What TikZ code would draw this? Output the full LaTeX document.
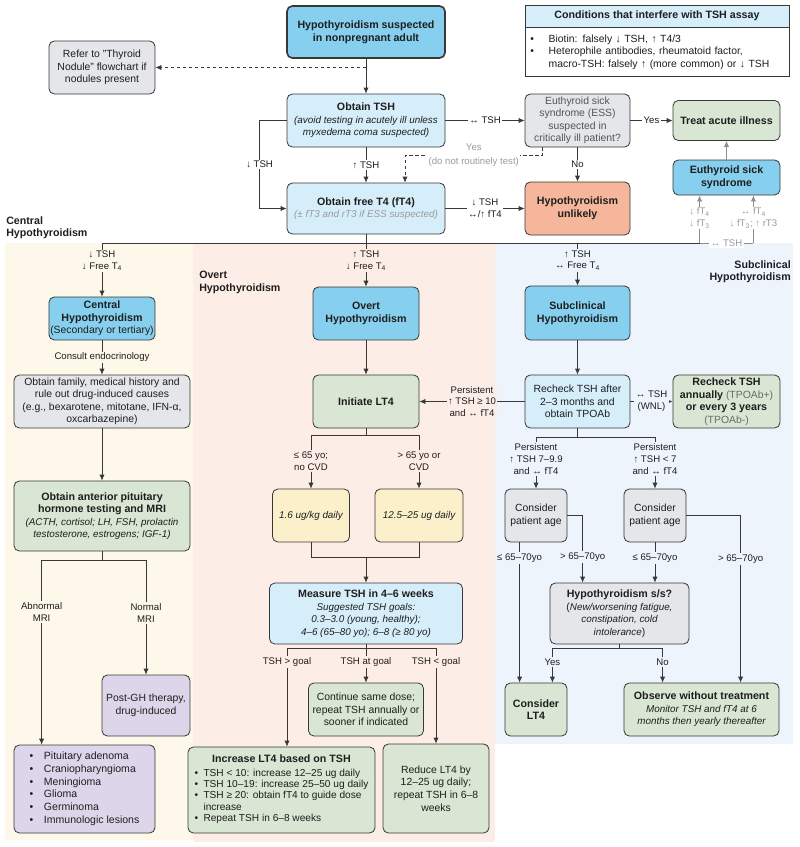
\documentclass[tikz,border=0pt]{standalone}
\usepackage{fontspec}
\setmainfont{Liberation Sans}
\usetikzlibrary{%
    arrows.meta,
    calc,
    positioning
}
\definecolor{linec}{HTML}{383838}
\definecolor{textc}{HTML}{1E1E1E}
\definecolor{mblue}{HTML}{86CFEF}
\definecolor{lblue}{HTML}{D6EEFA}
\definecolor{boxgrey}{HTML}{E4E6EA}
\definecolor{boxgreen}{HTML}{D9E6D3}
\definecolor{salmon}{HTML}{F5B69C}
\definecolor{boxpurple}{HTML}{DDD6EA}
\definecolor{boxyellow}{HTML}{FBF0C9}
\definecolor{centralbg}{HTML}{FDF8EA}
\definecolor{overtbg}{HTML}{FCEEE7}
\definecolor{subbg}{HTML}{EEF4FC}
\definecolor{softtext}{HTML}{9A9A9A}
\definecolor{midgrey}{HTML}{6B6B6B}
\definecolor{esstext}{HTML}{555555}
\definecolor{softline}{HTML}{8E8E8E}
\newcommand{\flowtxt}{\fontsize{7.8}{9.4}\selectfont}
\newcommand{\flowbold}{\fontsize{8}{9.6}\selectfont\bfseries}
\newcommand{\flowit}{\fontsize{7.4}{9.4}\selectfont\itshape}
\newcommand{\flowlbl}{\fontsize{7.2}{8.8}\selectfont}
\tikzset{flowarrow/.style = {-{Latex[length=4.5pt, width=4pt]}}}

\begin{document}
\begin{tikzpicture}[
    x=0.75pt, y=-0.75pt,
    boxsize/.style 2 args = {minimum width=#1*0.75pt, minimum height=#2*0.75pt},
    box/.style = {draw=linec, line width=.6pt, rounded corners=4pt, align=center,
        inner sep=1pt, text=textc, font=\flowtxt},
    bluebox/.style = {box, fill=mblue},
    lbluebox/.style = {box, fill=lblue},
    greybox/.style = {box, fill=boxgrey},
    greenbox/.style = {box, fill=boxgreen},
    salmonbox/.style = {box, fill=salmon},
    purplebox/.style = {box, fill=boxpurple},
    yellowbox/.style = {box, fill=boxyellow},
    wire/.style = {draw=linec, line width=.6pt},
    softwire/.style = {draw=softline, line width=.6pt},
    lbl/.style = {font=\flowlbl, text=textc, inner sep=1pt, align=center},
    softlbl/.style = {lbl, text=softtext},
    regionlbl/.style = {font=\flowbold, text=textc, inner sep=0pt, align=left}]
    \useasboundingbox (0,0) rectangle (800,847);
    \fill[white] (0,0) rectangle (800,847);

    \fill[centralbg] (5,243) rectangle (193,840);
    \fill[overtbg] (193,243) rectangle (495,842);
    \fill[subbg] (495,243) rectangle (793,744);

    \node[regionlbl, anchor=north west] (cenlbl) at (6,216) {Central\\Hypothyroidism};
    \node[regionlbl, anchor=north west] (ovlbl) at (199,271) {Overt\\Hypothyroidism};
    \node[regionlbl, anchor=north east, align=right] (sublbl) at (791,260) {Subclinical\\Hypothyroidism};

    \node[draw=linec, line width=.6pt, fill=lblue, boxsize={264}{22}, font=\flowbold, text=textc]
        (assayhead) at (657,16) {Conditions that interfere with TSH assay};
    \node[draw=linec, line width=.6pt, fill=white, anchor=north west, text width=190pt,
        inner xsep=4pt, minimum height=49*0.75pt, font=\flowtxt, text=textc, align=left]
        (assaybody) at (assayhead.south west)
        {\begin{tabular}{@{}l@{\hspace{11pt}}l@{}}
            \textbullet & Biotin: falsely ↓ TSH, ↑ T4/3\\
            \textbullet & Heterophile antibodies, rheumatoid factor,\\
             & macro-TSH: falsely ↑ (more common) or ↓ TSH
        \end{tabular}};

    \node[bluebox, line width=1.2pt, boxsize={158}{52}] (suspect) at (366,32)
        {{\flowbold Hypothyroidism suspected}\\{\flowbold in nonpregnant adult}};
    \node[greybox, boxsize={106}{53}] (refer) at (102,67.5)
        {Refer to "Thyroid\\Nodule" flowchart if\\nodules present};
    \node[lbluebox, boxsize={158}{53}] (tsh) at (366,120.5)
        {{\flowbold Obtain TSH}\\{\flowit (avoid testing in acutely ill unless}\\{\flowit myxedema coma suspected)}};
    \node[lbluebox, boxsize={158}{51}] (ft4) at (366,208.5)
        {{\flowbold Obtain free T4 (fT4)}\\{\flowit\color{softtext}(± fT3 and rT3 if ESS suspected)}};
    \node[greybox, boxsize={105}{53}, text=esstext] (ess) at (577.5,120.5)
        {Euthyroid sick\\syndrome (ESS)\\suspected in\\critically ill patient?};
    \node[greenbox, boxsize={107}{40}] (treat) at (726.5,120.5) {{\flowbold Treat acute illness}};
    \node[salmonbox, boxsize={105}{53}] (unlikely) at (577.5,208.5)
        {{\flowbold Hypothyroidism}\\{\flowbold unlikely}};
    \node[bluebox, boxsize={107}{35}] (esyn) at (726.5,177.5)
        {{\flowbold Euthyroid sick}\\{\flowbold syndrome}};

    \node[bluebox, boxsize={105}{43}] (central) at (102,318.5)
        {{\flowbold Central}\\{\flowbold Hypothyroidism}\\(Secondary or tertiary)};
    \node[greybox, boxsize={176}{53}] (family) at (102,401.5)
        {Obtain family, medical history and\\rule out drug-induced causes\\(e.g., bexarotene, mitotane, IFN-α,\\oxcarbazepine)};
    \node[greenbox, boxsize={176}{70}] (pittest) at (102,516)
        {{\flowbold Obtain anterior pituitary}\\{\flowbold hormone testing and MRI}\\{\flowit (ACTH, cortisol; LH, FSH, prolactin}\\{\flowit testosterone, estrogens; IGF-1)}};
    \node[purplebox, boxsize={88}{61}] (postgh) at (146,705.5) {Post-GH therapy,\\drug-induced};
    \node[purplebox, boxsize={141}{88}] (lesions) at (84.5,789)
        {{\fontsize{7.9}{9.5}\selectfont\begin{tabular}{@{}l@{\hspace{8pt}}l@{}}
            \textbullet & Pituitary adenoma\\
            \textbullet & Craniopharyngioma\\
            \textbullet & Meningioma\\
            \textbullet & Glioma\\
            \textbullet & Germinoma\\
            \textbullet & Immunologic lesions
        \end{tabular}}};

    \node[bluebox, boxsize={106}{53}] (overt) at (366,313.5)
        {{\flowbold Overt}\\{\flowbold Hypothyroidism}};
    \node[greenbox, boxsize={106}{53}] (initiate) at (366,401.5) {{\flowbold Initiate LT4}};
    \node[yellowbox, boxsize={77}{53}] (dose1) at (311,515.5) {{\flowit 1.6 ug/kg daily}};
    \node[yellowbox, boxsize={88}{53}] (dose2) at (419,515.5) {{\flowit 12.5–25 ug daily}};
    \node[lbluebox, boxsize={193}{61}] (measure) at (366,613.5)
        {{\flowbold Measure TSH in 4–6 weeks}\\{\flowit Suggested TSH goals:}\\{\flowit 0.3–3.0 (young, healthy);}\\{\flowit 4–6 (65–80 yo); 6–8 (≥ 80 yo)}};
    \node[greenbox, boxsize={187}{86}] (increase) at (281.5,790)
        {{\flowbold Increase LT4 based on TSH}\\[3pt]
        {\fontsize{7.6}{8.5}\selectfont\begin{tabular}{@{}l@{\hspace{4pt}}l@{}}
            \textbullet & TSH < 10: increase 12–25 ug daily\\
            \textbullet & TSH 10–19: increase 25–50 ug daily\\
            \textbullet & TSH ≥ 20: obtain fT4 to guide dose\\
             & increase\\
            \textbullet & Repeat TSH in 6–8 weeks
        \end{tabular}}};
    \node[greenbox, boxsize={115}{53}] (cont) at (366,709.5)
        {Continue same dose;\\repeat TSH annually or\\sooner if indicated};
    \node[greenbox, boxsize={106}{89}] (reduce) at (436,788.5)
        {Reduce LT4 by\\12–25 ug daily;\\repeat TSH in 6–8\\weeks};

    \node[bluebox, boxsize={105}{54}] (subcl) at (577.5,313)
        {{\flowbold Subclinical}\\{\flowbold Hypothyroidism}};
    \node[lbluebox, boxsize={105}{53}] (recheck) at (577.5,401.5)
        {Recheck TSH after\\2–3 months and\\obtain TPOAb};
    \node[greenbox, boxsize={107}{53}] (annual) at (726.5,401.5)
        {{\flowbold Recheck TSH}\\{\flowbold annually} {\color{midgrey}(TPOAb+)}\\{\flowbold or every 3 years}\\{\color{midgrey}(TPOAb-)}};
    \node[greybox, boxsize={62}{53}] (age1) at (536,515.5) {Consider\\patient age};
    \node[greybox, boxsize={62}{53}] (age2) at (655,515.5) {Consider\\patient age};
    \node[greybox, boxsize={139}{61}] (ss) at (619.5,613.5)
        {{\flowbold Hypothyroidism s/s?}\\({\flowit New/worsening fatigue,}\\{\flowit constipation, cold}\\{\flowit intolerance})};
    \node[greenbox, boxsize={62}{53}] (considerlt4) at (536,709.5)
        {{\flowbold Consider}\\{\flowbold LT4}};
    \node[greenbox, boxsize={155}{53}] (observe) at (701.5,709.5)
        {{\flowbold Observe without treatment}\\{\flowit Monitor TSH and fT4 at 6}\\{\flowit months then yearly thereafter}};

    \draw[wire, flowarrow] (suspect) to (tsh);
    \draw[wire, flowarrow, dash pattern=on 2.5pt off 2pt] (suspect.south |- refer.east) to (refer.east);
    \draw[wire, flowarrow] (tsh.west) -- ++(-27,0) |- node[lbl, pos=.25, fill=white] {↓ TSH} (ft4.west);
    \draw[wire, flowarrow] (tsh) to node[lbl, fill=white] {↑ TSH} (ft4);
    \draw[wire, flowarrow] (tsh) to node[lbl, fill=white] {↔ TSH} (ess);
    \draw[wire, flowarrow] (ess) to node[lbl, fill=white] {Yes} (treat);
    \draw[wire, flowarrow] (ess) to node[lbl, fill=white] {No} (unlikely);
    \draw[wire, flowarrow, dash pattern=on 2.5pt off 2pt] ($(ess.south west)+(18,0)$) -- ++(0,8)
        -| node[softlbl, pos=.25, yshift=6pt] {Yes}
           node[softlbl, pos=.25, yshift=-5pt, fill=white, inner ysep=2pt] {(do not routinely test)}
        ($(ft4.north)+(39,0)$);
    \draw[wire, flowarrow] (ft4) to node[lbl, fill=white] {↓ TSH\\↔/↑ fT4} (unlikely);
    \draw[softwire, flowarrow] (esyn) to (treat);

    \coordinate (bus) at ($(ft4.south)+(0,9)$);
    \coordinate (fl) at ($(esyn.south west)+(27,0)$);
    \coordinate (fr) at ($(esyn.south east)+(-27,0)$);
    \draw[wire] (central.north |- bus) -- (fl |- bus);
    \draw[softwire] (fl |- bus) to node[softlbl, fill=white] {↔ TSH} (fr |- bus);
    \draw[softwire, flowarrow] (fl |- bus) to
        node[softlbl, pos=.53, fill=white] {↓ fT\textsubscript{4}\\↓ fT\textsubscript{3}} (fl);
    \draw[softwire, flowarrow] (fr |- bus) to
        node[softlbl, pos=.53, fill=white] {↔ fT\textsubscript{4}\\↓ fT\textsubscript{3}; ↑ rT3} (fr);
    \draw[wire, flowarrow] (central.north |- bus) to
        node[lbl, pos=.33, fill=centralbg] {↓ TSH\\↓ Free T\textsubscript{4}} (central.north);
    \draw[wire, flowarrow] (ft4) to
        node[lbl, fill=overtbg] {↑ TSH\\↓ Free T\textsubscript{4}} (overt);
    \draw[wire, flowarrow] (subcl.north |- bus) to
        node[lbl, pos=.4, fill=subbg] {↑ TSH\\↔ Free T\textsubscript{4}} (subcl.north);

    \draw[wire, flowarrow] (central) to node[lbl, fill=centralbg] {Consult endocrinology} (family);
    \draw[wire, flowarrow] (family) to (pittest);
    \draw[wire] (pittest.south) -- ++(0,9) coordinate (mri);
    \coordinate (abn) at ($(lesions.north west)+(28,0)$);
    \draw[wire, flowarrow] (mri) -| node[lbl, pos=.64, fill=centralbg] {Abnormal\\MRI} (abn);
    \draw[wire, flowarrow] (mri) -| node[lbl, pos=.73, fill=centralbg] {Normal\\MRI} (postgh);

    \draw[wire, flowarrow] (overt) to (initiate);
    \draw[wire] (initiate.south) -- ++(0,7) coordinate (dose);
    \draw[wire, flowarrow] (dose) -| node[lbl, pos=.74, fill=overtbg] {≤ 65 yo;\\no CVD} (dose1);
    \draw[wire, flowarrow] (dose) -| node[lbl, pos=.74, fill=overtbg] {> 65 yo or\\CVD} (dose2);
    \coordinate (join) at ($(measure.north)+(0,-25)$);
    \draw[wire] (dose1) |- (join) -| (dose2);
    \draw[wire, flowarrow] (join) to (measure);
    \draw[wire] (measure.south) -- ++(0,4) coordinate (goal);
    \draw[wire, flowarrow] (goal) -| node[lbl, pos=.57, fill=overtbg] {TSH > goal}
        ($(increase.north)+(5.5,0)$);
    \draw[wire, flowarrow] (goal) to node[lbl, pos=.4, fill=overtbg] {TSH at goal} (cont);
    \draw[wire, flowarrow] (goal) -| node[lbl, pos=.57, fill=overtbg] {TSH < goal} (reduce);

    \draw[wire, flowarrow] (subcl) to (recheck);
    \draw[wire, flowarrow] (recheck) to
        node[lbl, fill=overtbg] {Persistent\\↑ TSH ≥ 10\\and ↔ fT4} (initiate);
    \draw[wire, flowarrow] (recheck) to node[lbl, fill=subbg] {↔ TSH\\(WNL)} (annual);
    \draw[wire] (recheck.south) -- ++(0,9) coordinate (persist);
    \draw[wire, flowarrow] (persist) -| node[lbl, pos=.71, fill=subbg]
        {Persistent\\↑ TSH 7–9.9\\and ↔ fT4} (age1);
    \draw[wire, flowarrow] (persist) -| node[lbl, pos=.71, fill=subbg]
        {Persistent\\↑ TSH < 7\\and ↔ fT4} (age2);
    \coordinate (young) at ($(age1.south west)+(15,0)$);
    \draw[wire, flowarrow] (young) to node[lbl, pos=.11, fill=subbg] {≤ 65–70yo} (young |- considerlt4.north);
    \draw[wire, flowarrow] (age1.east) -| node[lbl, pos=.81, fill=subbg] {> 65–70yo}
        ($(ss.north west)+(33,0)$);
    \draw[wire, flowarrow] (age2) to node[lbl, pos=.39, fill=subbg] {≤ 65–70yo} (age2.south |- ss.north);
    \draw[wire, flowarrow] (age2.east) -| node[lbl, pos=.63, fill=subbg] {> 65–70yo}
        ($(observe.north west)+(117,0)$);
    \draw[wire] (ss.south) -- ++(0,4) coordinate (sx);
    \draw[wire, flowarrow] (sx) -| node[lbl, pos=.7, fill=subbg] {Yes}
        ($(considerlt4.north east)+(-15,0)$);
    \draw[wire, flowarrow] (sx) -| node[lbl, pos=.7, fill=subbg] {No}
        ($(observe.north west)+(39,0)$);
\end{tikzpicture}
\end{document}
